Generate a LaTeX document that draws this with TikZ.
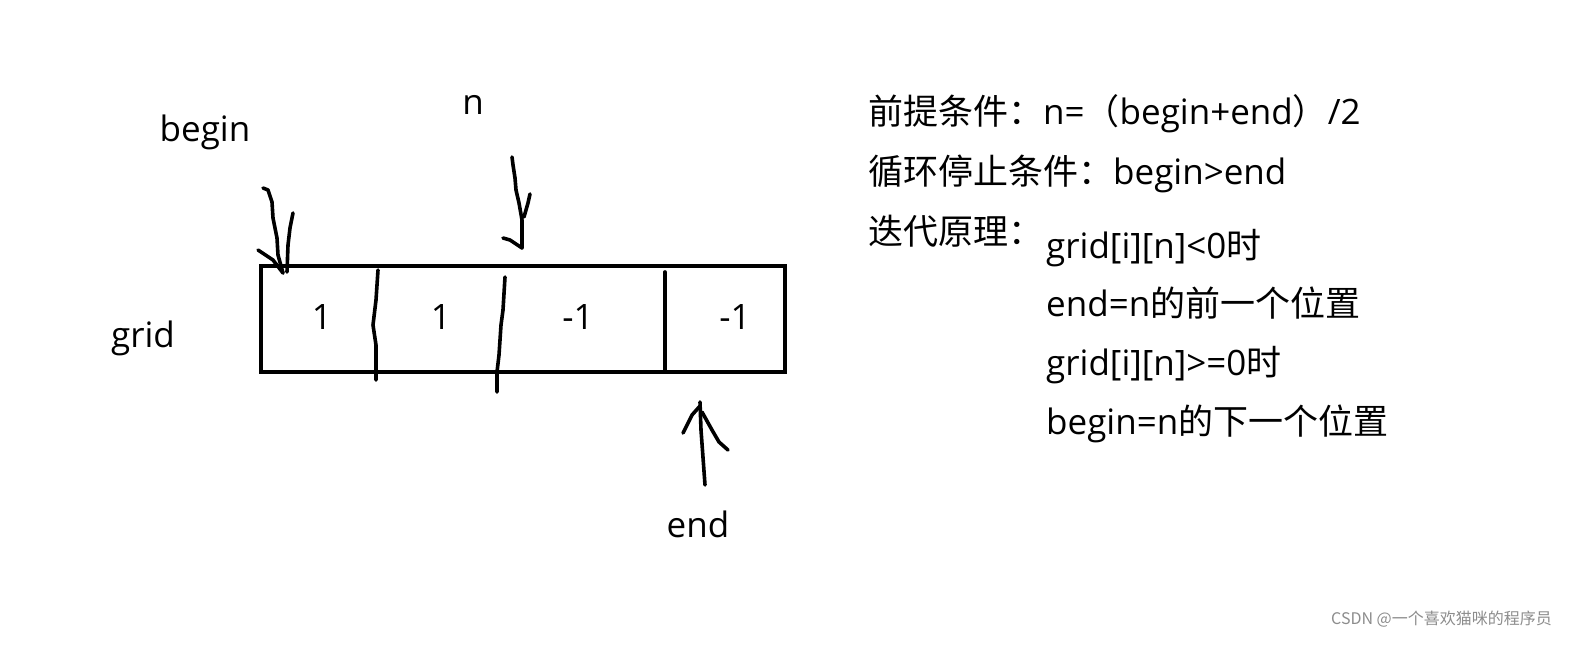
\documentclass[tikz,border=0pt]{standalone}
\usepackage{fontspec}
\usepackage{tikz}
\newfontfamily\cjk{Noto Sans CJK SC}
\newfontfamily\lat{Open Sans}
\tikzset{
Trait/.style={
 draw=black,
 line width=3.6pt,
 line cap=round,
 line join=round
 },
Cadre/.style={
 draw=black,
 line width=4pt
 },
Texte/.style={
 font=\cjk\fontsize{35}{42}\selectfont,
 inner sep=0pt
 },
Marque/.style={
 font=\cjk\fontsize{16}{19}\selectfont,
 text=black!45,
 inner sep=0pt
 }
}
\begin{document}
\begin{tikzpicture}[x=1pt,y=-1pt]
\useasboundingbox (0,0) rectangle (1592,648);
\draw[Cadre] (261,266) rectangle (785,372);
\draw[Trait] (378,270) -- (376,300) -- (373,325) -- (376,345) -- (376,380);
\draw[Trait] (505,277) -- (503,310) -- (501,325) -- (499,355) -- (497,372) -- (497,392);
\draw[Trait] (665,272) -- (665,372);
\node[Texte,anchor=base] (v1) at (322,329) {\lat 1};
\node[Texte,anchor=base] (v2) at (441,329) {\lat 1};
\node[Texte,anchor=base] (v3) at (578,329) {\lat -1};
\node[Texte,anchor=base] (v4) at (735,329) {\lat -1};
\node[Texte,anchor=base] (grid) at (143,347) {\lat grid};
\node[Texte,anchor=base] (begin) at (205,141) {\lat begin};
\node[Texte,anchor=base] (n) at (473,114) {\lat n};
\node[Texte,anchor=base] (end) at (698,537) {\lat end};
\draw[Trait] (263,188) -- (268,190) -- (272,202) -- (273,218) -- (277,238) -- (278,255) -- (283,273);
\draw[Trait] (293,213) -- (290,228) -- (288,245) -- (287,272);
\draw[Trait] (258,250) -- (273,260) -- (283,273);
\draw[Trait] (512,157) -- (513,165) -- (515,178) -- (516,190) -- (519,203) -- (522,220) -- (522,248);
\draw[Trait] (530,194) -- (528,203) -- (524,217);
\draw[Trait] (503,238) -- (510,240) -- (522,248);
\draw[Trait] (700,402) -- (701,430) -- (705,485);
\draw[Trait] (683,433) -- (692,415) -- (700,406);
\draw[Trait] (702,412) -- (712,430) -- (719,442) -- (728,450);
\node[Texte,anchor=base west] (cond) at (868,124) {前提条件：{\lat n=}（{\lat begin+end}）{\lat /2}};
\node[Texte,anchor=base west] (arret) at (868,184) {循环停止条件：{\lat begin>end}};
\node[Texte,anchor=base west] (iter) at (868,244) {迭代原理：};
\node[Texte,anchor=base west] (r1) at (1046,258) {{\lat grid[i][n]<0}时};
\node[Texte,anchor=base west] (r2) at (1046,316) {{\lat end=n}的前一个位置};
\node[Texte,anchor=base west] (r3) at (1046,375) {{\lat grid[i][n]>=0}时};
\node[Texte,anchor=base west] (r4) at (1046,434) {{\lat begin=n}的下一个位置};
\node[Marque,anchor=base east] (csdn) at (1552,624) {CSDN @一个喜欢猫咪的程序员};
\end{tikzpicture}
\end{document}
